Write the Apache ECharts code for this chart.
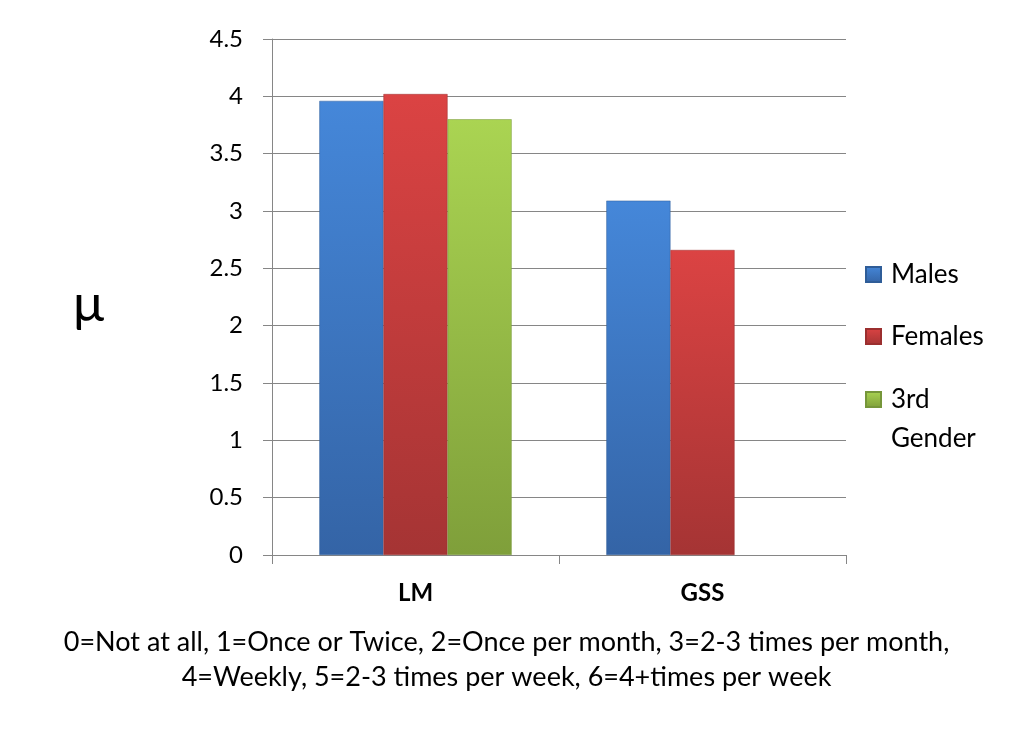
<!DOCTYPE html>
<html>
<head>
<meta charset="utf-8">
<script src="https://cdn.jsdelivr.net/npm/echarts@6/dist/echarts.min.js"></script>
<style>
html,body{margin:0;padding:0;background:#fff;}
#main{width:1013px;height:750px;}
</style>
</head>
<body>
<div id="main"></div>
<script>
var categories = ['LM', 'GSS'];
var males = [3.96, 3.09];
var females = [4.02, 2.66];
var thirdGender = [3.80, null];
var yTicks = { min: 0, max: 4.5, interval: 0.5 };
var footnote = '0=Not at all, 1=Once or Twice, 2=Once per month, 3=2-3 times per month,\n4=Weekly, 5=2-3 times per week, 6=4+times per week';
var yName = 'μ';

function grad(top, bottom) {
  return new echarts.graphic.LinearGradient(0, 0, 0, 1, [
    { offset: 0, color: top },
    { offset: 1, color: bottom }
  ]);
}
var blue = grad('#4587d9', '#3464a6');
var red = grad('#db4343', '#a53434');
var green = grad('#aad452', '#7f9f3a');

var FONT = 'Lato';
var chart = echarts.init(document.getElementById('main'));
chart.setOption({
  animation: false,
  backgroundColor: '#ffffff',
  textStyle: { fontFamily: FONT },
  title: {
    text: footnote,
    left: 'center',
    top: 620,
    textStyle: { fontFamily: FONT, fontSize: 27, fontWeight: 'normal', color: '#000', lineHeight: 35 }
  },
  graphic: [{
    type: 'text',
    left: 73,
    top: 278,
    style: { text: yName, font: '52px Lato', fill: '#000' }
  }],
  legend: [{
    orient: 'vertical',
    left: 865,
    top: 255,
    padding: 0,
    itemGap: 23,
    itemWidth: 15,
    itemHeight: 15,
    icon: 'rect',
    data: ['Males', 'Females'],
    textStyle: { fontFamily: FONT, fontSize: 26, color: '#000', lineHeight: 39, padding: [0, 0, 0, 5] }
  }, {
    orient: 'vertical',
    left: 865,
    top: 341,
    padding: 0,
    itemWidth: 15,
    itemHeight: 15,
    icon: 'rect',
    data: ['3rd Gender'],
    formatter: function () { return ' \n3rd\nGender'; },
    textStyle: { fontFamily: FONT, fontSize: 26, color: '#000', lineHeight: 39, padding: [0, 0, 0, 5] }
  }],
  grid: { left: 272, right: 167, top: 39, bottom: 195, containLabel: false },
  xAxis: {
    type: 'category',
    data: categories,
    axisLine: { lineStyle: { color: '#868686', width: 1 } },
    axisTick: { show: true, length: 9, lineStyle: { color: '#868686' } },
    axisLabel: { margin: 26, fontFamily: FONT, fontSize: 24, fontWeight: 'bold', color: '#000' }
  },
  yAxis: {
    type: 'value',
    min: yTicks.min,
    max: yTicks.max,
    interval: yTicks.interval,
    axisLine: { show: true, lineStyle: { color: '#868686', width: 1 } },
    axisTick: { show: true, length: 9, lineStyle: { color: '#868686' } },
    splitLine: { show: true, lineStyle: { color: '#868686', width: 1 } },
    axisLabel: { margin: 29, fontFamily: FONT, fontSize: 24, color: '#000' }
  },
  series: [{
    name: 'Males', type: 'bar', data: males,
    barGap: '0%', barCategoryGap: '33%',
    itemStyle: { color: blue, borderColor: '#2f5d98', borderWidth: 0.5 }
  }, {
    name: 'Females', type: 'bar', data: females,
    barGap: '0%', barCategoryGap: '33%',
    itemStyle: { color: red, borderColor: '#9b2f2f', borderWidth: 0.5 }
  }, {
    name: '3rd Gender', type: 'bar', data: thirdGender,
    barGap: '0%', barCategoryGap: '33%',
    itemStyle: { color: green, borderColor: '#76963a', borderWidth: 0.5 }
  }]
});
</script>
</body>
</html>
